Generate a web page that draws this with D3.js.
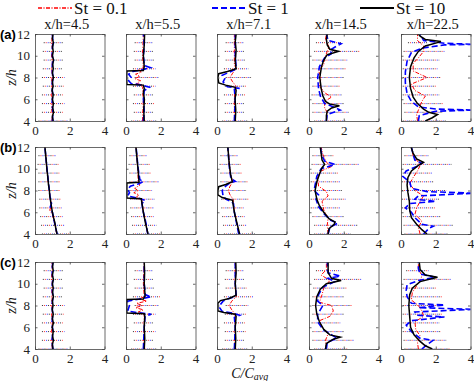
<!DOCTYPE html>
<html>
<head>
<meta charset="utf-8">
<script src="https://cdn.jsdelivr.net/npm/d3@7.9.0/dist/d3.min.js"></script>
<style>
  body { margin: 0; background: #fff; }
  svg { display: block; }
  .tick text { font-family: "Liberation Serif", serif; font-size: 13px; fill: #222; }
  .serif { font-family: "Liberation Serif", serif; fill: #111; }
  .lab { font-family: "Liberation Sans", Arial, sans-serif; font-weight: bold; }
</style>
</head>
<body>
<svg id="chart" width="474" height="381"></svg>
<script>
// ---- data ----
const colTitles = ["x/h=4.5", "x/h=5.5", "x/h=7.1", "x/h=14.5", "x/h=22.5"];
const rowLabels = ["(a)", "(b)", "(c)"];
const seriesNames = ["St = 0.1", "St = 1", "St = 10"];
const xTicks = [0, 2, 4];
const yTicks = [4, 6, 8, 10, 12];
const barZ = [4.0, 4.8, 5.6, 6.4, 7.2, 8.0, 8.8, 9.6, 10.4, 11.2];

// St = 0.1 profiles, [z, C/Cavg], by row then column
const st01 = [
  [
    [[4,0.97],[4.6,1.0],[5.2,0.95],[5.8,1.0],[6.4,0.96],[7,1.0],[7.6,0.95],[8.2,1.0],[8.8,0.96],[9.4,1.0],[10,0.95],[10.6,1.0],[11.2,0.96],[12,1.0]],
    [[4,0.95],[6,1.0],[7.0,0.95],[7.3,1.0],[7.45,0.6],[7.7,0.85],[7.9,0.5],[8.1,0.8],[8.3,0.55],[8.5,0.9],[8.7,0.7],[8.9,1.0],[10,0.95],[12,1.0]],
    [[4,1.0],[6,1.0],[7.0,1.05],[7.2,1.1],[7.6,0.9],[8.0,0.75],[8.4,0.9],[8.8,1.1],[9.2,1.0],[10,1.0],[12,1.0]],
    [[4,1.0],[4.8,1.05],[5.2,0.9],[5.8,0.9],[6.2,1.3],[6.6,0.9],[7.2,0.6],[8.0,0.7],[8.6,0.55],[9.2,0.85],[9.8,0.9],[10.4,1.05],[10.8,1.15],[11.5,0.95],[12,1.0]],
    [[4,0.95],[4.6,0.9],[5.2,1.05],[5.8,1.2],[6.3,1.4],[6.8,0.8],[7.4,0.6],[8.0,1.5],[8.6,0.7],[9.3,0.7],[9.8,1.0],[10.4,1.3],[10.9,1.3],[11.4,0.95],[12,0.95]]
  ],
  [
    [[4,1.25],[5,1.12],[5.8,1.0],[6.2,0.85],[6.6,0.95],[7.5,0.86],[8.5,0.78],[9.5,0.72],[10.5,0.66],[11.5,0.6],[12,0.58]],
    [[4,1.25],[6,1.0],[7.2,0.9],[7.4,0.6],[7.6,0.75],[7.8,0.45],[8.0,0.7],[8.2,0.5],[8.5,0.8],[8.8,0.7],[10,0.68],[12,0.58]],
    [[4,1.28],[6,1.0],[7.2,0.92],[7.6,0.75],[8.0,0.65],[8.4,0.75],[8.8,0.9],[9.5,0.78],[12,0.62]],
    [[4,1.1],[4.8,1.05],[5.5,1.1],[6.2,0.85],[7.0,0.75],[7.5,1.1],[7.9,1.0],[8.4,0.55],[9.2,0.5],[9.8,0.7],[10.2,1.3],[10.6,1.0],[11.3,0.8],[12,0.7]],
    [[4,1.1],[4.6,1.0],[5.2,1.2],[5.8,0.8],[6.4,0.9],[7.0,1.1],[7.5,1.3],[8.0,0.8],[8.6,0.5],[9.2,0.7],[9.8,0.95],[10.3,1.1],[10.6,1.0],[11.2,0.7],[12,0.6]]
  ],
  [
    [[4,1.0],[4.6,0.96],[5.2,1.0],[5.8,0.95],[6.4,1.0],[7,0.96],[7.6,1.0],[8.2,0.95],[8.8,1.0],[9.4,0.96],[10,1.0],[10.6,0.95],[11.2,1.0],[12,0.97]],
    [[4,1.0],[6,1.05],[7.2,1.05],[7.4,0.7],[7.6,1.0],[7.8,0.55],[8.0,0.95],[8.2,0.6],[8.4,1.2],[8.6,0.75],[8.8,1.05],[10,1.0],[12,1.05]],
    [[4,1.0],[6,1.05],[7.2,1.05],[7.6,0.85],[8.0,0.7],[8.4,0.85],[8.8,1.1],[10,1.05],[12,1.05]],
    [[4,1.0],[4.8,0.95],[5.4,1.1],[6.0,0.75],[6.6,0.6],[7.0,1.2],[7.5,1.4],[8.0,1.3],[8.3,0.6],[9.0,0.75],[9.6,0.85],[10.3,1.2],[10.8,0.7],[11.3,1.0],[12,1.0]],
    [[4,1.0],[4.6,0.95],[5.2,1.1],[5.8,0.85],[6.5,0.8],[7.0,1.3],[7.5,1.2],[8.0,1.0],[8.5,0.6],[9.2,0.65],[9.8,0.9],[10.4,1.15],[10.8,1.2],[11.3,1.0],[12,1.0]]
  ]
];

// St = 1 profiles
const st1 = [
  [
    [[4,1.0],[4.8,1.03],[5.6,0.98],[6.4,1.02],[7.2,0.98],[8,1.03],[8.8,0.98],[9.6,1.02],[10.4,0.98],[11.2,1.03],[12,1.0]],
    [[4,1.0],[5,1.05],[6,1.0],[6.8,1.05],[7.1,1.35],[7.3,0.9],[7.45,0.3],[7.7,0.15],[8.0,0.3],[8.3,0.15],[8.55,0.4],[8.75,1.0],[8.9,1.4],[9.1,1.05],[10,1.0],[11,1.05],[12,1.0]],
    [[4,1.0],[6,1.05],[6.9,1.0],[7.0,1.3],[7.15,0.6],[7.3,0.5],[7.6,0.35],[7.9,0.45],[8.2,0.3],[8.45,0.65],[8.7,1.0],[9,1.1],[10,1.05],[12,1.05]],
    [[4,1.0],[4.6,1.05],[5.0,1.8],[5.3,1.4],[5.6,0.9],[6.3,0.65],[7,0.55],[8,0.5],[9,0.6],[9.8,0.9],[10.2,1.3],[10.5,1.2],[10.8,1.5],[11.1,1.85],[11.4,1.1],[12,1.0]],
    [[4,1.0],[4.5,1.05],[4.9,2.0],[5.0,4.2],[5.1,2.0],[5.3,1.0],[5.8,0.6],[6.5,0.35],[7.5,0.25],[8.5,0.25],[9.5,0.35],[10.3,0.6],[10.7,1.2],[11.0,2.5],[11.05,4.2],[11.15,2.5],[11.4,1.3],[12,1.1]]
  ],
  [
    [[4,1.27],[5,1.13],[6,1.0],[6.5,0.88],[6.8,0.95],[7.5,0.86],[8.5,0.79],[9.5,0.72],[10.5,0.66],[11.5,0.6],[12,0.57]],
    [[4,1.25],[5,1.15],[6,1.0],[6.8,0.92],[7.1,1.1],[7.3,0.7],[7.5,0.1],[7.8,0.2],[8.1,0.1],[8.4,0.25],[8.6,0.7],[8.8,1.0],[9.0,0.8],[10,0.7],[12,0.58]],
    [[4,1.25],[6,1.0],[6.8,0.95],[7.0,0.8],[7.2,0.5],[7.5,0.35],[8.0,0.3],[8.4,0.5],[8.65,0.7],[8.85,1.05],[9.1,0.8],[10,0.72],[12,0.62]],
    [[4,1.1],[4.6,1.2],[5.0,1.65],[5.3,1.2],[5.8,0.9],[6.5,0.55],[7.2,0.4],[7.6,0.55],[8,0.3],[8.5,0.35],[9.3,0.45],[10.0,0.7],[10.4,1.5],[10.7,0.9],[11.2,0.75],[12,0.65]],
    [[4,1.3],[4.5,1.6],[4.7,1.85],[4.9,1.2],[5.5,0.8],[6.0,0.6],[6.4,0.25],[6.8,0.5],[7.0,2.0],[7.2,0.8],[7.5,1.0],[7.75,4.2],[7.9,1.5],[8.2,0.6],[8.8,0.5],[9.3,0.1],[9.8,0.3],[10.2,0.9],[10.5,1.2],[10.8,0.8],[11.3,0.7],[12,0.6]]
  ],
  [
    [[4,1.02],[4.8,0.98],[5.6,1.03],[6.4,0.98],[7.2,1.02],[8,0.98],[8.8,1.03],[9.6,0.98],[10.4,1.02],[11.2,0.98],[12,1.02]],
    [[4,1.0],[6,1.05],[7.0,1.1],[7.2,1.45],[7.35,0.6],[7.5,0.1],[8.0,0.2],[8.4,0.1],[8.6,0.8],[8.8,1.45],[9.0,1.1],[10,1.05],[12,1.05]],
    [[4,1.0],[6,1.05],[6.9,1.0],[7.1,1.3],[7.3,0.9],[7.45,0.3],[7.8,0.15],[8.1,0.2],[8.4,0.35],[8.6,0.6],[8.8,1.0],[9.0,1.1],[10,1.05],[12,1.05]],
    [[4,1.0],[4.6,1.05],[5.0,1.6],[5.3,1.3],[5.8,0.8],[6.5,0.5],[7.2,0.5],[7.6,0.65],[8.0,0.8],[8.4,0.5],[9.0,0.55],[9.7,0.8],[10.2,1.5],[10.5,1.1],[10.7,1.8],[11.0,1.1],[12,1.05]],
    [[4,1.2],[4.4,1.5],[4.8,1.85],[5.0,1.1],[5.6,0.6],[6.2,0.3],[6.6,0.6],[6.95,2.5],[7.1,0.9],[7.4,0.8],[7.65,4.2],[7.8,1.0],[8.05,2.5],[8.2,0.6],[8.8,0.35],[9.4,0.3],[9.9,0.35],[10.3,1.0],[10.6,2.0],[10.9,1.1],[11.4,1.0],[12,1.0]]
  ]
];

// St = 10 profiles
const st10 = [
  [
    [[4,1.05],[4.4,1.0],[4.8,1.07],[5.2,1.02],[5.6,1.06],[6,1.0],[6.4,1.05],[6.8,0.98],[7.2,1.04],[7.6,1.0],[8,1.06],[8.4,1.0],[8.8,1.05],[9.2,1.02],[9.6,1.07],[10,1.0],[10.4,1.05],[10.8,1.01],[11.2,1.06],[11.6,1.0],[12,1.04]],
    [[4,1.05],[5,1.02],[6,1.06],[6.6,1.0],[7.0,1.05],[7.3,1.0],[7.35,0.05],[8.0,0.04],[8.6,0.05],[8.65,1.0],[9.0,1.05],[10,1.0],[11,1.05],[12,1.07]],
    [[4,1.05],[5,1.08],[6,1.04],[6.8,1.1],[7.1,1.05],[7.3,0.5],[7.5,0.1],[8.0,0.05],[8.35,0.1],[8.55,0.6],[8.8,1.1],[9.5,1.05],[10.5,1.1],[11.3,1.05],[12,1.1]],
    [[4,1.0],[4.5,1.0],[4.9,1.05],[5.2,1.3],[5.4,1.75],[5.55,1.2],[5.8,0.95],[6.3,0.8],[7,0.7],[8,0.62],[9,0.72],[9.6,0.85],[10.1,1.05],[10.4,1.7],[10.6,1.2],[11,1.05],[11.5,1.0],[12,1.05]],
    [[4,1.4],[4.3,1.8],[4.6,2.1],[4.8,1.6],[5.1,1.3],[5.6,0.95],[6.2,0.7],[7,0.55],[8,0.48],[9,0.55],[9.8,0.75],[10.4,1.0],[10.9,1.4],[11.3,2.3],[11.5,1.4],[11.8,1.1],[12,1.0]]
  ],
  [
    [[4,1.27],[4.5,1.2],[5,1.15],[5.5,1.07],[6,1.0],[6.5,0.95],[7,0.9],[7.5,0.85],[8,0.83],[8.5,0.78],[9,0.75],[9.5,0.72],[10,0.68],[10.5,0.66],[11,0.63],[11.5,0.6],[12,0.57]],
    [[4,1.27],[5,1.12],[6,1.0],[6.8,0.92],[7.25,0.88],[7.3,0.05],[8.0,0.05],[8.7,0.05],[8.75,0.75],[9.5,0.72],[10.5,0.66],[11.5,0.6],[12,0.57]],
    [[4,1.3],[5,1.15],[6,1.0],[6.8,0.92],[7.1,0.9],[7.35,0.3],[7.6,0.05],[8.0,0.05],[8.35,0.1],[8.55,0.5],[8.8,0.88],[9.5,0.78],[10.5,0.7],[11.5,0.65],[12,0.62]],
    [[4,1.1],[4.5,1.15],[4.9,1.45],[5.1,1.5],[5.4,1.15],[6,0.85],[6.6,0.6],[7.2,0.45],[8,0.35],[8.8,0.45],[9.5,0.6],[10.1,0.75],[10.4,0.9],[10.8,0.75],[11.4,0.7],[12,0.65]],
    [[4,1.5],[4.4,1.2],[4.9,0.9],[5.5,0.6],[6.2,0.5],[7,0.48],[7.8,0.4],[8.5,0.35],[9.2,0.4],[9.8,0.6],[10.3,1.0],[10.6,1.3],[10.9,0.9],[11.4,0.7],[12,0.58]]
  ],
  [
    [[4,1.04],[4.4,1.0],[4.8,1.06],[5.2,1.01],[5.6,1.05],[6,0.99],[6.4,1.06],[6.8,1.0],[7.2,1.05],[7.6,0.99],[8,1.04],[8.4,1.0],[8.8,1.06],[9.2,1.01],[9.6,1.05],[10,1.0],[10.4,1.06],[10.8,1.0],[11.2,1.05],[11.6,1.01],[12,1.05]],
    [[4,1.05],[5,1.08],[6,1.05],[7,1.08],[7.25,1.05],[7.3,0.05],[8.0,0.04],[8.55,0.05],[8.6,1.0],[8.9,1.1],[10,1.05],[11,1.07],[12,1.05]],
    [[4,1.05],[5,1.08],[6,1.05],[7,1.1],[7.2,1.05],[7.35,0.4],[7.5,0.05],[8.2,0.05],[8.45,0.2],[8.65,0.7],[8.95,1.1],[10,1.05],[11,1.1],[12,1.08]],
    [[4,0.95],[4.5,1.0],[4.9,1.4],[5.1,1.8],[5.3,1.2],[5.8,0.85],[6.5,0.6],[7.2,0.45],[8,0.38],[8.8,0.45],[9.5,0.65],[10.0,1.0],[10.3,1.85],[10.5,1.3],[11,1.1],[12,1.1]],
    [[4,1.8],[4.3,1.4],[4.7,1.1],[5.3,0.75],[6,0.55],[7,0.5],[8,0.45],[9,0.5],[9.6,0.65],[10.2,1.1],[10.6,2.1],[10.8,1.4],[11.3,1.1],[12,1.05]]
  ]
];

// dotted spread bars at barZ levels: low and high C/Cavg, by row then column
const barLo = [
  [[0.2,0.4,0.4,0.4,0.45,0.4,0.45,0.5,0.45,0.5],
   [0.3,0.45,0.4,0.45,0.4,0.5,0.4,0.5,0.45,0.5],
   [0.3,0.45,0.45,0.4,0.45,0.5,0.4,0.5,0.45,0.5],
   [0.3,0.2,0.2,0.15,0.2,0.2,0.2,0.2,0.3,0.4],
   [0.1,0.2,0.15,0.1,0.1,0.1,0.1,0.1,0.15,0.4]],
  [[0.4,0.35,0.3,0.25,0.25,0.2,0.2,0.2,0.15,0.2],
   [0.4,0.35,0.3,0.25,0.25,0.2,0.2,0.2,0.15,0.2],
   [0.4,0.35,0.3,0.25,0.25,0.2,0.2,0.2,0.15,0.2],
   [0.3,0.3,0.2,0.1,0.1,0.1,0.1,0.1,0.15,0.2],
   [0.2,0.15,0.1,0.05,0.05,0.05,0.05,0.1,0.1,0.2]],
  [[0.2,0.4,0.4,0.4,0.45,0.4,0.45,0.5,0.45,0.5],
   [0.3,0.45,0.4,0.45,0.4,0.5,0.4,0.5,0.45,0.5],
   [0.3,0.45,0.45,0.4,0.45,0.5,0.4,0.5,0.45,0.5],
   [0.3,0.2,0.2,0.15,0.2,0.2,0.2,0.25,0.3,0.4],
   [0.2,0.15,0.1,0.1,0.1,0.1,0.1,0.1,0.15,0.3]]
];
const barHi = [
  [[1.9,1.6,1.7,1.6,1.65,1.7,1.6,1.65,1.6,1.6],
   [1.8,1.6,1.65,1.6,1.7,1.9,1.7,1.6,1.6,1.55],
   [1.8,1.6,1.6,1.65,1.7,2.0,1.8,1.65,1.6,1.55],
   [2.1,2.3,2.0,1.9,1.8,2.0,2.1,2.2,2.9,1.9],
   [2.6,2.4,2.4,2.2,2.0,2.3,2.1,2.2,2.5,1.5]],
  [[2.0,1.7,1.6,1.55,1.5,1.45,1.45,1.4,1.35,1.2],
   [2.0,1.75,1.6,1.6,1.65,1.5,1.9,1.45,1.4,1.2],
   [2.2,1.7,1.6,1.55,1.8,1.7,1.75,1.45,1.4,1.2],
   [2.4,2.8,2.0,1.8,2.1,1.9,1.8,1.7,2.9,1.4],
   [2.7,3.0,2.3,2.0,2.2,2.6,1.9,1.8,2.9,1.6]],
  [[1.9,1.6,1.7,1.6,1.65,1.7,1.6,1.65,1.6,1.6],
   [1.8,1.6,1.7,1.6,1.7,1.9,2.0,1.6,1.6,1.55],
   [1.8,1.6,1.65,1.6,1.7,1.8,2.1,1.7,1.6,1.55],
   [2.2,2.6,2.0,1.8,2.0,2.5,2.0,2.2,3.0,1.8],
   [2.8,2.6,2.3,2.2,2.4,2.2,2.4,2.0,2.9,1.6]]
];

// ---- layout ----
const svg = d3.select("#chart");
const colX = [35, 126, 217, 309, 401];
const rowY = [34, 147, 262];
const pw = 69.5, ph = 87;
const colors = ["#ff0000", "#0000ff", "#000000"];
const dashes = ["4,1.5,1,1.5", "6,3", null];
const widths = [1, 1.6, 1.5];

const x = d3.scaleLinear().domain([0, 4]).range([0, pw]);
const y = d3.scaleLinear().domain([4, 12]).range([ph, 0]);
const line = d3.line().x(d => x(d[1])).y(d => y(d[0]));

svg.append("defs").append("clipPath").attr("id", "clip")
  .append("rect").attr("width", pw).attr("height", ph);

// legend
const legX = [38, 212, 360];
seriesNames.forEach((name, i) => {
  svg.append("line")
    .attr("x1", legX[i]).attr("x2", legX[i] + 34)
    .attr("y1", 8).attr("y2", 8)
    .attr("stroke", colors[i]).attr("stroke-width", widths[i] + 0.3)
    .attr("stroke-dasharray", dashes[i]);
  svg.append("text")
    .attr("class", "serif")
    .attr("x", legX[i] + 36).attr("y", 14)
    .style("font-size", "17px")
    .text(name);
});

rowY.forEach((ty, r) => {
  svg.append("text")
    .attr("class", "lab")
    .attr("x", 0).attr("y", ty + 5)
    .style("font-size", "13px")
    .text(rowLabels[r]);

  svg.append("text")
    .attr("class", "serif")
    .attr("transform", `translate(16,${ty + ph / 2}) rotate(-90)`)
    .attr("text-anchor", "middle")
    .style("font-style", "italic").style("font-size", "14px")
    .text("z/h");

  colX.forEach((tx, c) => {
    const g = svg.append("g").attr("transform", `translate(${tx},${ty})`);

    if (r === 0) {
      svg.append("text")
        .attr("class", "serif")
        .attr("x", tx + pw / 2 - 3).attr("y", 29)
        .attr("text-anchor", "middle")
        .style("font-size", "14.5px")
        .text(colTitles[c]);
    }

    const plot = g.append("g").attr("clip-path", "url(#clip)");

    // dotted spread bars, three colours interleaved
    barZ.forEach((z, k) => {
      [2, 0, 1].forEach((s, j) => {
        plot.append("line")
          .attr("x1", x(barLo[r][c][k])).attr("x2", x(barHi[r][c][k]))
          .attr("y1", y(z)).attr("y2", y(z))
          .attr("stroke", colors[s]).attr("stroke-width", 1)
          .attr("stroke-dasharray", "1,5")
          .attr("stroke-dashoffset", -j * 2)
          .attr("opacity", 0.8);
      });
    });

    [st01, st1, st10].forEach((series, s) => {
      plot.append("path")
        .attr("d", line(series[r][c]))
        .attr("fill", "none")
        .attr("stroke", colors[s])
        .attr("stroke-width", widths[s])
        .attr("stroke-dasharray", dashes[s]);
    });

    // axes, MATLAB-style inward ticks on all four sides
    const fmt = d3.format("d");
    const bottom = g.append("g").attr("transform", `translate(0,${ph})`)
      .call(d3.axisBottom(x).tickValues(xTicks).tickSizeInner(-2.5).tickSizeOuter(0).tickPadding(5).tickFormat(fmt));
    const top = g.append("g")
      .call(d3.axisTop(x).tickValues(xTicks).tickSizeInner(-2.5).tickSizeOuter(0).tickFormat(""));
    const left = g.append("g")
      .call(d3.axisLeft(y).tickValues(yTicks).tickSizeInner(-2.5).tickSizeOuter(0).tickPadding(5)
        .tickFormat(c === 0 ? fmt : ""));
    const right = g.append("g").attr("transform", `translate(${pw},0)`)
      .call(d3.axisRight(y).tickValues(yTicks).tickSizeInner(-2.5).tickSizeOuter(0).tickFormat(""));
    [bottom, top, left, right].forEach(a => {
      a.attr("font-family", null);
      a.select(".domain").attr("stroke", "#444").attr("stroke-width", 0.8);
      a.selectAll(".tick line").attr("stroke", "#444").attr("stroke-width", 0.8);
    });
  });
});

// x axis label
const xl = svg.append("text")
  .attr("class", "serif")
  .attr("x", colX[2] + pw / 2 - 2).attr("y", 378)
  .attr("text-anchor", "middle")
  .style("font-style", "italic").style("font-size", "14px");
xl.append("tspan").text("C/C");
xl.append("tspan").style("font-size", "10px").attr("dy", 2).text("avg");
</script>
</body>
</html>
